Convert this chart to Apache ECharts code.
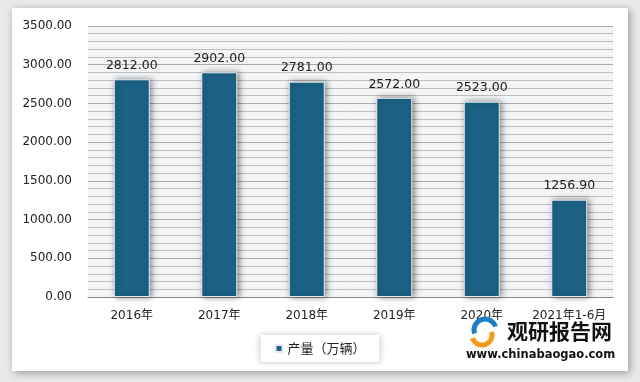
<!DOCTYPE html>
<html><head><meta charset="utf-8">
<script src="https://cdn.jsdelivr.net/npm/echarts@6/dist/echarts.min.js"></script>
<style>html,body{margin:0;padding:0;background:#e9e9e9;}#c{width:640px;height:382px;}</style>
</head><body><div id="c"></div>
<script>
const categories = ['2016年','2017年','2018年','2019年','2020年','2021年1-6月'];
const production = [2812.00, 2902.00, 2781.00, 2572.00, 2523.00, 1256.90];
const seriesName = '产量（万辆）';

const chart = echarts.init(document.getElementById('c'));
chart.setOption({
  backgroundColor: '#e9e9e9',
  animation: false,
  graphic: [
    {type:'rect', z:-10, shape:{x:12,y:8,width:616,height:363}, style:{fill:'#ffffff', shadowBlur:8, shadowColor:'rgba(0,0,0,0.35)', shadowOffsetX:2, shadowOffsetY:2}},
    {type:'text', z:10, left:507, top:321, style:{text:'观研报告网', font:'bold 21px "Noto Sans CJK SC"', fill:'#111'}},
    {type:'text', z:10, left:466, top:349, style:{text:'www.chinabaogao.com', font:'bold 11.5px "DejaVu Sans"', fill:'#111'}},
    {type:'arc', z:10, shape:{cx:485,cy:330,r:11,startAngle:Math.PI*0.9,endAngle:Math.PI*1.9}, style:{stroke:'#1f7fc4', lineWidth:5, fill:null}},
    {type:'arc', z:10, shape:{cx:482,cy:335,r:10,startAngle:-Math.PI*0.1,endAngle:Math.PI*0.9}, style:{stroke:'#f39a1d', lineWidth:5, fill:null}}
  ],
  grid: {left:88, right:27, top:26, bottom:85, backgroundColor:'#f3f4f6', show:true, borderWidth:0},
  legend: {
    bottom: 20, left: 'center',
    itemWidth: 7, itemHeight: 7, itemGap: 6,
    padding: [7, 14, 7, 14],
    backgroundColor: '#ffffff',
    shadowBlur: 6, shadowColor: 'rgba(0,0,0,0.25)',
    textStyle: {fontFamily:'"Noto Sans CJK SC"', fontSize:13, color:'#222'},
    data: [{name: seriesName, icon:'rect'}]
  },
  xAxis: {
    type:'category', data: categories,
    axisLine:{show:true, lineStyle:{color:'#888', width:1}},
    axisTick:{show:false},
    axisLabel:{interval:0, color:'#222', fontSize:12, fontFamily:'"DejaVu Sans", "Noto Sans CJK SC"', margin:13}
  },
  yAxis: {
    type:'value', min:0, max:3500, interval:500,
    axisLine:{show:false}, axisTick:{show:false},
    axisLabel:{color:'#222', fontSize:12, fontFamily:'"DejaVu Sans"', margin:16, formatter:v=>v.toFixed(2)},
    splitLine:{show:true, lineStyle:{color:'#a9aaae', width:1}},
    minorTick:{show:false, splitNumber:5},
    minorSplitLine:{show:true, lineStyle:{color:'#bdbec2', width:1}}
  },
  series: [{
    name: seriesName, type:'bar', data: production, barWidth: 36,
    itemStyle:{color:'#1b6286', borderColor:'#e6eef2', borderWidth:1, shadowBlur:6, shadowColor:'rgba(0,0,0,0.45)', shadowOffsetX:2},
    label:{show:true, position:'top', distance:7, color:'#222', fontSize:12.5, fontFamily:'"DejaVu Sans"', formatter:p=>p.value.toFixed(2)}
  }]
});
</script></body></html>
